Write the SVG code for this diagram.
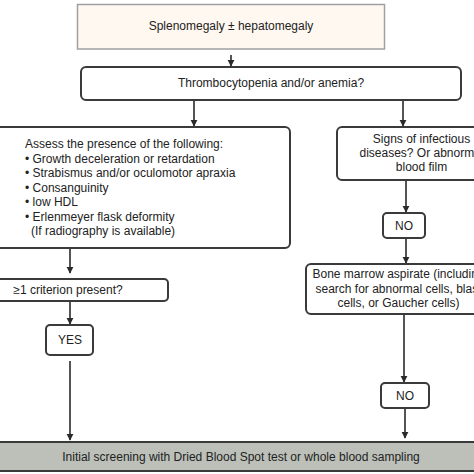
<svg xmlns="http://www.w3.org/2000/svg" width="474" height="474" viewBox="0 0 474 474">
<style>
text{font-family:"Liberation Sans",Arial,sans-serif;font-size:12px;fill:#222}
.m{text-anchor:middle}
.box{fill:#fff;stroke:#3a3a3a;stroke-width:2}
.ln{stroke:#2a2a2a;stroke-width:1.6;fill:none}
</style>
<defs>
<marker id="ah" viewBox="0 0 10 10" refX="9" refY="5" markerWidth="4.5" markerHeight="4.5" orient="auto" markerUnits="strokeWidth">
<path d="M0,0 L10,5 L0,10 z" fill="#2a2a2a"/>
</marker>
</defs>
<rect width="474" height="474" fill="#fff"/>
<g id="connectors">
<line class="ln" x1="231" y1="55" x2="231" y2="66" stroke-width="2" marker-end="url(#ah)"/>
<line class="ln" x1="194" y1="101" x2="194" y2="126" marker-end="url(#ah)"/>
<line class="ln" x1="403" y1="101" x2="403" y2="126" marker-end="url(#ah)"/>
<line class="ln" x1="406" y1="181" x2="406" y2="212" marker-end="url(#ah)"/>
<line class="ln" x1="406" y1="239" x2="406" y2="263" marker-end="url(#ah)"/>
<line class="ln" x1="404" y1="315" x2="404" y2="382" marker-end="url(#ah)"/>
<line class="ln" x1="405" y1="409" x2="405" y2="438" marker-end="url(#ah)"/>
<line class="ln" x1="70" y1="249" x2="70" y2="273" marker-end="url(#ah)"/>
<line class="ln" x1="70" y1="302" x2="70" y2="324" marker-end="url(#ah)"/>
<line class="ln" x1="70" y1="361" x2="70" y2="440" marker-end="url(#ah)"/>
</g>
<g id="splenomegaly">
<rect x="77.5" y="4.5" width="307" height="44.5" fill="#fff8f1" stroke="#a0a0a0" stroke-width="1.5"/>
<text class="m" x="231" y="30">Splenomegaly ± hepatomegaly</text>
</g>
<g id="thrombocytopenia">
<rect class="box" x="81" y="67" width="380" height="33" rx="5"/>
<text class="m" x="271" y="87">Thrombocytopenia and/or anemia?</text>
</g>
<g id="assess">
<rect class="box" x="-20" y="127" width="310" height="121" rx="5"/>
<text x="25" y="148">Assess the presence of the following:</text>
<text x="25" y="162.5">• Growth deceleration or retardation</text>
<text x="25" y="177">• Strabismus and/or oculomotor apraxia</text>
<text x="25" y="191.5">• Consanguinity</text>
<text x="25" y="206">• low HDL</text>
<text x="25" y="220.5">• Erlenmeyer flask deformity</text>
<text x="31" y="235">(If radiography is available)</text>
</g>
<g id="infectious">
<rect class="box" x="337" y="127" width="170" height="53" rx="5"/>
<text class="m" x="421.5" y="143">Signs of infectious</text>
<text class="m" x="421.5" y="157">diseases? Or abnormal</text>
<text class="m" x="421.5" y="171">blood film</text>
</g>
<g id="no1">
<rect class="box" x="383" y="213" width="42" height="25" rx="4"/>
<text class="m" x="404" y="229.5">NO</text>
</g>
<g id="bonemarrow">
<rect class="box" x="306" y="264" width="186" height="50" rx="5"/>
<text class="m" x="398.5" y="278">Bone marrow aspirate (including</text>
<text class="m" x="398.5" y="292.5">search for abnormal cells, blast</text>
<text class="m" x="398.5" y="307">cells, or Gaucher cells)</text>
</g>
<g id="no2">
<rect class="box" x="381" y="383" width="48" height="25" rx="4"/>
<text class="m" x="405" y="400">NO</text>
</g>
<g id="criterion">
<rect class="box" x="-28" y="279" width="196" height="22" rx="4"/>
<text class="m" x="68" y="294">≥1 criterion present?</text>
</g>
<g id="yes">
<rect class="box" x="46" y="325" width="47" height="30" rx="4"/>
<text class="m" x="70" y="343.5">YES</text>
</g>
<g id="screening">
<rect x="-5" y="442" width="484" height="29" fill="#bcc0b9" stroke="#3a3a3a" stroke-width="2"/>
<text class="m" x="241" y="461">Initial screening with Dried Blood Spot test or whole blood sampling</text>
</g>
</svg>
